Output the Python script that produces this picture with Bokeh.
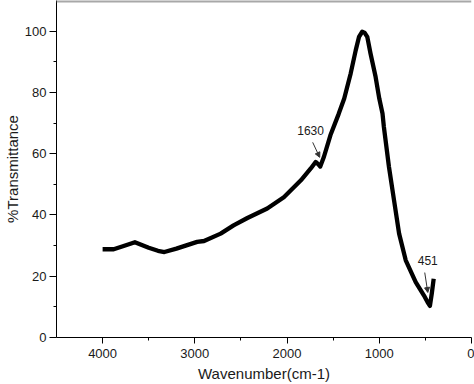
from bokeh.plotting import figure
from bokeh.models import Range1d, FixedTicker, Span, Arrow, NormalHead, Label
from bokeh.embed import file_html
from bokeh.resources import INLINE

# FTIR spectrum
wavenumber = [4000, 3880, 3780, 3650, 3500, 3400, 3330, 3200, 3100, 2975, 2900,
              2720, 2580, 2430, 2215, 2035, 1850, 1745, 1690, 1660, 1640, 1600,
              1530, 1440, 1380, 1310, 1255, 1220, 1185, 1160, 1130, 1095, 1040,
              1000, 965, 950, 895, 840, 785, 713, 605, 515, 470, 451, 430, 410]
transmittance = [28.8, 28.8, 29.8, 31.1, 29.3, 28.3, 27.9, 29.0, 30.0, 31.2, 31.5,
                 33.9, 36.6, 39.0, 42.1, 45.8, 51.3, 55.1, 57.3, 56.5, 55.8, 59.0,
                 66.0, 73.0, 78.0, 86.2, 93.8, 98.1, 99.8, 99.5, 98.1, 92.7, 85.1,
                 78.0, 73.1, 68.7, 55.7, 44.8, 33.9, 25.2, 18.1, 13.7, 11.2, 10.3, 14.5, 19.2]

x_ticks = [4000, 3000, 2000, 1000, 0]
x_minor = [3500, 2500, 1500, 500]
y_ticks = [0, 20, 40, 60, 80, 100]
y_minor = [10, 30, 50, 70, 90]

# annotations: label text, label position, arrow start, arrow end
ann_text = ["1630", "451"]
ann_label_xy = [(1745, 67.6), (474, 25.2)]
ann_arrow_from = [(1722, 63.7), (507, 21.2)]
ann_arrow_to = [(1646, 58.8), (474, 14.7)]

x_start, x_end = 4500, 0
y_start, y_end = 0, 110

FONT = "Liberation Sans"

p = figure(width=474, height=384, output_backend="svg", toolbar_location=None,
           x_range=Range1d(x_start, x_end), y_range=Range1d(y_start, y_end),
           min_border_left=56, min_border_right=3, min_border_top=0,
           min_border_bottom=47)
p.outline_line_color = None
p.xgrid.visible = False
p.ygrid.visible = False
p.background_fill_color = "white"
p.border_fill_color = "white"

p.line(wavenumber, transmittance, line_color="black", line_width=4.3,
       line_join="round", line_cap="butt")

for ax in (p.xaxis[0], p.yaxis[0]):
    ax.axis_line_color = "black"
    ax.axis_line_width = 1
    ax.major_tick_line_color = "black"
    ax.minor_tick_line_color = "black"
    ax.major_tick_in = 0
    ax.minor_tick_in = 0
    ax.minor_tick_out = 3
    ax.major_label_text_font = FONT
    ax.major_label_text_font_size = "13px"
    ax.major_label_text_color = "#1a1a1a"
    ax.axis_label_text_font = FONT
    ax.axis_label_text_font_size = "15px"
    ax.axis_label_text_font_style = "normal"
    ax.axis_label_text_color = "#1a1a1a"

p.xaxis[0].ticker = FixedTicker(ticks=x_ticks, minor_ticks=x_minor)
p.yaxis[0].ticker = FixedTicker(ticks=y_ticks, minor_ticks=y_minor)
p.xaxis[0].major_tick_out = 6
p.yaxis[0].major_tick_out = 7
p.xaxis[0].major_label_standoff = 5
p.yaxis[0].major_label_standoff = 3
p.xaxis[0].axis_label = "Wavenumber(cm-1)"
p.yaxis[0].axis_label = "%Transmittance"
p.xaxis[0].axis_label_standoff = 4
p.yaxis[0].axis_label_standoff = 1

# grey top border line
p.add_layout(Span(location=y_end, dimension="width", line_color="#a8a8a8", line_width=4))

for t, (lx, ly), (x0, y0), (x1, y1) in zip(ann_text, ann_label_xy, ann_arrow_from, ann_arrow_to):
    p.add_layout(Label(x=lx, y=ly, text=t, text_align="center", text_baseline="middle",
                       text_font=FONT, text_font_size="12px", text_color="#1a1a1a"))
    p.add_layout(Arrow(x_start=x0, y_start=y0, x_end=x1, y_end=y1,
                       line_color="#333333", line_width=1,
                       end=NormalHead(size=5, fill_color="#333333", line_color="#333333")))

open("out.html", "w").write(file_html(p, INLINE))
